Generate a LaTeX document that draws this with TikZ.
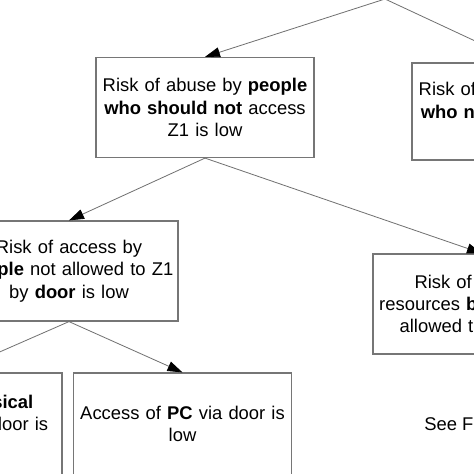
\documentclass[tikz,border=0pt]{standalone}
\usepackage{fontspec}
\setmainfont{Liberation Sans}
\usetikzlibrary{arrows.meta}
\definecolor{edgegray}{RGB}{112,112,112}
\definecolor{boxgray}{RGB}{118,118,118}
\begin{document}
\begin{tikzpicture}[x=1pt,y=-1pt,
  box/.style={draw=boxgray, line width=1.2pt, text width=210pt, inner xsep=4pt, inner ysep=0pt,
    minimum height=100pt, align=center, font=\fontsize{18.4}{22.3}\selectfont, text=black},
  conn/.style={draw=edgegray, line width=0.8pt, -{Triangle[length=15pt,width=10pt,color=black]}},
  seetext/.style={font=\fontsize{18.4}{22.3}\selectfont, text=black, inner sep=0pt}]
\useasboundingbox (0,0) rectangle (474,474);
\clip (0,0) rectangle (474,474);
\fill[white] (0,0) rectangle (474,474);
\coordinate (root) at (385,-1);
\node[box] (A) at (205,107.5) {Risk of abuse by \textbf{people}\\\textbf{who should not} access\\Z1 is low};
\node[box, minimum height=97pt] (B) at (521,111.5) {Risk of abuse by \textbf{people}\\\textbf{who need to} access Z1\\is low};
\node[box] (C) at (69,271) {Risk of access by\\\textbf{people} not allowed to Z1\\by \textbf{door} is low};
\node[box] (D) at (482,304) {Risk of abuse of\\resources \textbf{by people} not\\allowed to Z1 is low};
\node[box, minimum height=102pt] (F) at (-47,424) {Access of \textbf{physical}\\\textbf{documents} via door is\\low};
\node[box, minimum height=102pt] (E) at (182.5,424) {Access of \textbf{PC} via door is\\low};
\node[seetext, anchor=base] (see) at (477,430) {See Figure 6};
\draw[conn] (root) -- (A.north);
\draw[conn] (root) -- (B.north);
\draw[conn] (A.south) -- (C.north);
\draw[conn] (A.south) -- (D.north);
\draw[conn] (C.south) -- (F.north);
\draw[conn] (C.south) -- (E.north);
\draw[conn, shorten >=28.8pt] (D.south) -- (see.north);
\end{tikzpicture}
\end{document}
